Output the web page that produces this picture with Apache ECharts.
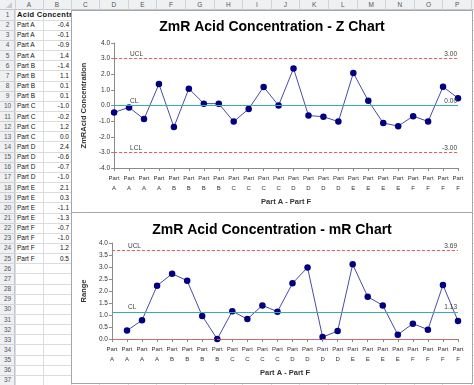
<!DOCTYPE html>
<html><head><meta charset="utf-8">
<script src="https://cdn.jsdelivr.net/npm/echarts@6/dist/echarts.min.js"></script>
<style>
html,body{margin:0;padding:0;background:#fff;width:474px;height:385px;overflow:hidden;font-family:"Liberation Sans",Arial,sans-serif;}
#sheet{position:absolute;left:0;top:0;width:474px;height:385px;overflow:hidden;}
.abs{position:absolute;box-sizing:border-box;white-space:nowrap;}
.wrap{position:absolute;box-sizing:border-box;border:1px solid #a6a6a6;background:#fff;}
.chart{position:absolute;left:0;top:0;}
</style>
</head><body>
<div id="sheet"></div>
<div class="wrap" style="left:71px;top:10px;width:402px;height:204px;"><div id="zc" class="chart" style="width:400px;height:202px;"></div></div>
<div class="wrap" style="left:71px;top:212px;width:402px;height:172px;"><div id="mrc" class="chart" style="width:400px;height:170px;"></div></div>
<script>
// ---- data ----
const categories = ['Part A','Part A','Part A','Part A','Part B','Part B','Part B','Part B',
  'Part C','Part C','Part C','Part C','Part D','Part D','Part D','Part D',
  'Part E','Part E','Part E','Part E','Part F','Part F','Part F','Part F'];
const zValues = [-0.44,-0.12,-0.87,1.37,-1.38,1.08,0.12,0.12,-1.03,-0.22,1.19,0.0,
  2.37,-0.64,-0.72,-1.03,2.08,0.3,-1.12,-1.32,-0.68,-1.02,1.2,0.47];
const mrValues = [null,0.35,0.78,2.22,2.72,2.43,0.96,0.0,1.16,0.83,1.4,1.14,
  2.32,2.98,0.08,0.33,3.11,1.76,1.4,0.18,0.64,0.39,2.25,0.75];
const zLimitValues = [3.00, 0.00, -3.00];
const zLimitNames = ['UCL','CL','LCL'];
const mrLimitValues = [3.69, 1.13, 0.00];
const mrLimitNames = ['UCL','CL',''];
const columnLetters = ['A','B','C','D','E','F','G','H','I','J','K','L','M','N','O','P'];
const sheetHeader = 'Acid Concentration';

// ---- spreadsheet ----
const sheet = document.getElementById('sheet');
const hdrH = 10, rowH = 10.15, rowHdrW = 15, nRows = 37;
const colEdges = [15, 43, 71];
for (let i = 3; i <= 16; i++) colEdges.push(71 + (i - 2) * 28.6);
function add(style, text) {
  const d = document.createElement('div');
  d.className = 'abs';
  Object.assign(d.style, style);
  if (text !== undefined) d.textContent = text;
  sheet.appendChild(d);
  return d;
}
add({left:'0px',top:'0px',width:'474px',height:hdrH+'px',background:'#eef0f2',borderBottom:'1px solid #c2c6cc'});
add({left:'0px',top:hdrH+'px',width:rowHdrW+'px',height:(385-hdrH)+'px',background:'#eef0f2',borderRight:'1px solid #c2c6cc'});
// select-all corner triangle
add({left:'6px',top:'2px',width:'0px',height:'0px',borderLeft:'6px solid transparent',borderBottom:'6px solid #c8ccd0'});
for (let r = 1; r <= nRows; r++) {
  const y = hdrH + r * rowH;
  add({left:rowHdrW+'px',top:(y-0.5)+'px',width:(474-rowHdrW)+'px',height:'1px',background:'#dadcde'});
  add({left:'0px',top:(y-0.5)+'px',width:rowHdrW+'px',height:'1px',background:'#cfd3d8'});
  add({left:'0px',top:(hdrH+(r-1)*rowH)+'px',width:rowHdrW+'px',height:rowH+'px',lineHeight:rowH+'px',
       textAlign:'center',fontSize:'6.5px',color:'#555'}, String(r));
}
for (let c = 0; c < colEdges.length; c++) {
  const x = colEdges[c];
  add({left:(x-0.5)+'px',top:hdrH+'px',width:'1px',height:(385-hdrH)+'px',background:'#dadcde'});
  add({left:(x-0.5)+'px',top:'0px',width:'1px',height:hdrH+'px',background:'#cfd3d8'});
  if (c < columnLetters.length) {
    const w = colEdges[c+1] - x;
    add({left:x+'px',top:'0px',width:w+'px',height:hdrH+'px',lineHeight:hdrH+'px',textAlign:'center',fontSize:'6.5px',color:'#555'}, columnLetters[c]);
  }
}
add({left:(colEdges[0]+2)+'px',top:hdrH+'px',height:rowH+'px',lineHeight:rowH+'px',fontSize:'7.5px',letterSpacing:'0.3px',fontWeight:'bold',color:'#111'}, sheetHeader);
categories.forEach((cat, i) => {
  const y = hdrH + (i + 1) * rowH;
  add({left:(colEdges[0]+2)+'px',top:y+'px',height:rowH+'px',lineHeight:rowH+'px',fontSize:'6.5px',color:'#111'}, cat);
  add({left:colEdges[1]+'px',top:y+'px',width:(colEdges[2]-colEdges[1]-2)+'px',height:rowH+'px',lineHeight:rowH+'px',textAlign:'right',fontSize:'6.5px',color:'#111'}, zValues[i].toFixed(1));
});

// ---- charts ----
const FONT = '"Liberation Sans", Arial, sans-serif';
const RED = '#f05a5e', TEAL = '#3aaab4';
function limitData(values, names) {
  const out = [];
  values.forEach((v, i) => {
    const isCL = names[i] === 'CL';
    const ls = isCL ? {color: TEAL, type: 'solid', width: 1} : {color: RED, type: [3, 2], width: 1.2};
    out.push({yAxis: v, lineStyle: ls, label: {show: names[i] !== '', formatter: names[i], position: 'insideStartTop', distance: [16, 1]}});
    if (names[i] !== '') out.push({yAxis: v, lineStyle: ls, label: {show: true, formatter: v.toFixed(2), position: 'insideEndTop', distance: [1, 1]}});
  });
  return out;
}
function buildOption(cfg) {
  return {
    animation: false,
    textStyle: {fontFamily: FONT},
    title: {text: cfg.title, left: 'center', top: cfg.titleTop,
      textStyle: {fontFamily: FONT, fontSize: 14, fontWeight: 'bold', color: '#000'}},
    grid: {left: cfg.left, right: cfg.right, top: cfg.top, bottom: cfg.bottom},
    xAxis: {
      type: 'category', data: categories, boundaryGap: false,
      axisLine: {onZero: false, lineStyle: {color: '#8a8a8a'}},
      axisTick: {show: true, length: 3, lineStyle: {color: '#8a8a8a'}},
      axisLabel: {interval: 0, fontSize: 6, color: '#333', lineHeight: 10, margin: 5,
        formatter: v => v.replace(' ', '\n')},
      name: 'Part A - Part F', nameLocation: 'middle', nameGap: cfg.xNameGap,
      nameTextStyle: {fontSize: 7.5, fontWeight: 'bold', color: '#333'}
    },
    yAxis: {
      type: 'value', min: cfg.min, max: cfg.max, interval: cfg.interval,
      axisLine: {show: true, lineStyle: {color: '#8a8a8a'}},
      axisTick: {show: true, length: 3, lineStyle: {color: '#8a8a8a'}},
      splitLine: {show: false},
      axisLabel: {fontSize: 6.5, color: '#333', margin: 4, formatter: v => v.toFixed(1)},
      name: cfg.yName, nameLocation: 'middle', nameGap: cfg.yNameGap,
      nameTextStyle: {fontSize: 7.5, fontWeight: 'bold', color: '#333'}
    },
    series: [{
      type: 'line', data: cfg.data, symbol: 'circle', symbolSize: 6.5, connectNulls: false,
      lineStyle: {color: '#4a4aa6', width: 1}, itemStyle: {color: '#000080'},
      markLine: {silent: true, symbol: ['none', 'none'],
        label: {fontSize: 6.5, color: '#404040', fontFamily: FONT},
        data: cfg.limits}
    }]
  };
}
echarts.init(document.getElementById('zc'), null, {renderer: 'canvas'}).setOption(buildOption({
  title: 'ZmR Acid Concentration - Z Chart', titleTop: 4,
  left: 37, right: 14, top: 32, bottom: 45, xNameGap: 25,
  min: -4, max: 4, interval: 1, yName: 'ZmRAcid Concentration', yNameGap: 20,
  data: zValues, limits: limitData(zLimitValues, zLimitNames)
}));
echarts.init(document.getElementById('mrc'), null, {renderer: 'canvas'}).setOption(buildOption({
  title: 'ZmR Acid Concentration - mR Chart', titleTop: 5,
  left: 36, right: 14, top: 30, bottom: 44, xNameGap: 23,
  min: 0, max: 4, interval: 0.5, yName: 'Range', yNameGap: 20,
  data: mrValues, limits: limitData(mrLimitValues, mrLimitNames)
}));
</script>
</body></html>
